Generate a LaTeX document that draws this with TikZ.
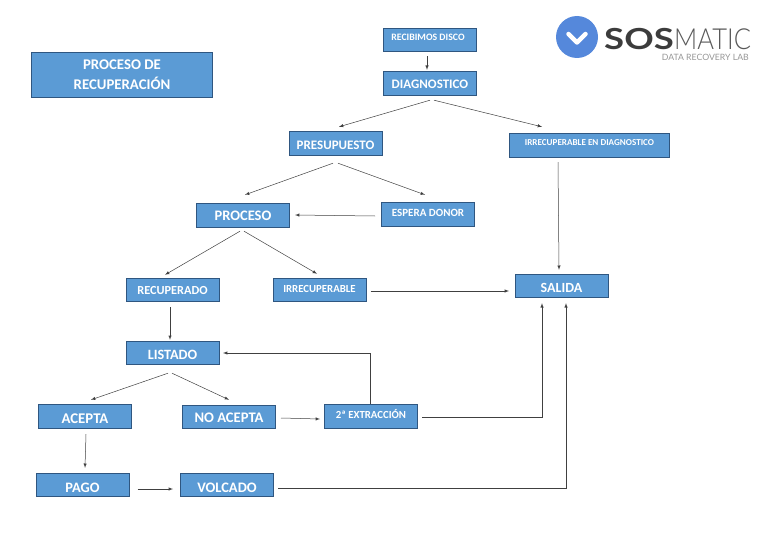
\documentclass[tikz,border=0pt]{standalone}
\usepackage{fontspec}
\setmainfont{Carlito}
\newfontfamily\logofont{Lato}
\newfontfamily\logowide[FakeStretch=1.26]{Lato}
\newfontfamily\logolight[FakeStretch=0.88]{Lato Light}
\usetikzlibrary{calc}
\definecolor{cajafill}{HTML}{5B9BD5}
\definecolor{cajaline}{HTML}{2F5680}
\definecolor{logoblue}{HTML}{5588DB}
\definecolor{logodark}{HTML}{3C3C3C}
\definecolor{logogray}{HTML}{969696}
\tikzset{
    caja/.style={draw=cajaline, fill=cajafill, text=white, font=\bfseries\fontsize{13}{16}\selectfont, minimum width=93.2, minimum height=23.6, inner sep=0pt, line width=0.8pt, text height=10.5pt, text depth=0pt},
    tam/.style={font=\bfseries\fontsize{#1}{16}\selectfont},
    arriba/.style={text height=8.5pt, text depth=#1},
    alto/.style={text height=#1},
    flecha/.style={->, >=latex, draw=black!75, line width=0.5pt}
}
\begin{document}
\begin{tikzpicture}[x=1pt, y=-1pt]
    \useasboundingbox (0, 0) rectangle (768, 543);

    \node [caja, tam=14.8, minimum width=181.2, minimum height=45, text height=, text depth=, align=center] (titulo) at (122, 74.5) {PROCESO DE\\[4pt]RECUPERACIÓN};

    \node [caja, tam=9.8, arriba=8pt] (recibimos) at (430, 40) {\kern-4pt RECIBIMOS DISCO};
    \node [caja] (diag) at (430, 83.5) {DIAGNOSTICO};
    \node [caja, alto=11.5pt] (presup) at (335.5, 143.5) {PRESUPUESTO};
    \node [caja, tam=9.1, minimum width=160.5, arriba=9pt] (irrecdiag) at (589.5, 145.5) {IRRECUPERABLE EN DIAGNOSTICO};
    \node [caja, tam=14.5] (proceso) at (243, 215.5) {PROCESO};
    \node [caja, tam=11, arriba=5pt] (espera) at (428, 214.5) {ESPERA DONOR};
    \node [caja, tam=12.3, alto=9.5pt] (recuperado) at (172.5, 290) {RECUPERADO};
    \node [caja, tam=10.8, arriba=3pt] (irrec) at (319.5, 290) {IRRECUPERABLE};
    \node [caja, tam=14, alto=12.5pt] (salida) at (561.5, 286) {SALIDA};
    \node [caja, tam=14.2, alto=12.5pt] (listado) at (172.5, 353) {LISTADO};
    \node [caja, tam=14.8, alto=14.5pt] (acepta) at (85, 416.5) {ACEPTA};
    \node [caja, tam=14.6] (noacepta) at (229, 417) {NO ACEPTA};
    \node [caja, tam=10.8, arriba=4pt] (extr) at (371, 416.5) {2ª EXTRACCIÓN};
    \node [caja, tam=14.4, alto=14.5pt] (pago) at (82.5, 485) {PAGO};
    \node [caja, tam=14.5, alto=14.5pt] (volcado) at (227, 485) {VOLCADO};

    \draw [flecha] ($ (recibimos.south) + (-3, 4) $) -- ($ (diag.north) + (-3, -1.5) $);
    \draw [flecha] ($ (diag.south) + (0, 4.5) $) -- ($ (presup.north) + (3.5, -4.5) $);
    \draw [flecha] ($ (diag.south) + (4, 4.5) $) -- ($ (irrecdiag.north) + (-47.5, -6.5) $);
    \draw [flecha] ($ (presup.south) + (-2.5, 7.5) $) -- ($ (proceso.north) + (2, -8.5) $);
    \draw [flecha] ($ (presup.south) + (2.5, 7.5) $) -- ($ (espera.north) + (-3, -7.5) $);
    \draw [flecha] ($ (espera.west) + (-6, 1.5) $) -- ($ (proceso.east) + (5, -0.5) $);
    \draw [flecha] ($ (proceso.south) + (-3, 3.5) $) -- ($ (recuperado.north) + (-7.5, -3) $);
    \draw [flecha] ($ (proceso.south) + (1, 3.5) $) -- ($ (irrec.north) + (-2.5, -4) $);
    \draw [flecha] ($ (irrecdiag.south) + (-31.5, 4.5) $) -- ($ (salida.north) + (-2.5, -4) $);
    \draw [flecha] ($ (recuperado.south) + (-2.5, 5) $) -- ($ (listado.north) + (-2.5, -1) $);
    \draw [flecha] ($ (irrec.east) + (4, 1) $) -- ($ (salida.west) + (-5.5, 5) $);
    \draw [flecha] ($ (listado.south) + (-4.5, 8) $) -- ($ (acepta.north) + (6, -4.5) $);
    \draw [flecha] ($ (listado.south) + (-0.5, 8) $) -- ($ (noacepta.north) + (0, -5) $);
    \draw [flecha] ($ (noacepta.east) + (5, 1) $) -- ($ (extr.west) + (-4, 2.5) $);
    \draw [flecha] ($ (extr.north) + (-1, -0.5) $) |- ($ (listado.east) + (3.5, 0) $);
    \draw [flecha] ($ (extr.east) + (4, 0.5) $) -| ($ (salida.south) + (-19.5, 5) $);
    \draw [flecha] ($ (acepta.south) + (1, 5.5) $) -- ($ (pago.north) + (2.5, -5) $);
    \draw [flecha] ($ (pago.east) + (8, 4) $) -- ($ (volcado.west) + (-7, 4) $);
    \draw [flecha] ($ (volcado.east) + (4, 3) $) -| ($ (salida.south) + (4.5, 5) $);

    % logo
    \fill [logoblue] (577, 37) circle [radius=21];
    \draw [white, line width=4.5pt, line cap=round, line join=round] (568.5, 34) -- (577, 42.5) -- (585.5, 34);
    \node [anchor=base west, inner sep=0pt, text=logodark, font=\logowide\bfseries\fontsize{29}{29}\selectfont] (logosos) at (604, 49) {SOS};
    \node [anchor=base west, inner sep=0pt, text=logodark!85, font=\logolight\fontsize{29}{29}\selectfont] (logomatic) at (logosos.base east) {MATIC};
    \node [anchor=base east, inner sep=0pt, text=logogray, font=\logofont\fontsize{8.7}{8.7}\selectfont] (logolab) at (749, 61) {DATA RECOVERY LAB};
\end{tikzpicture}
\end{document}
